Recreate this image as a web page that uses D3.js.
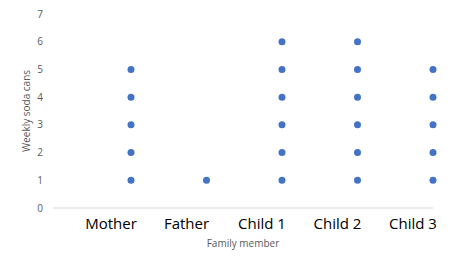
<!doctype html>
<html>
<head>
    <style>
        body { margin: 0; background: #fff; }
        svg text { font-family: "Open Sans", sans-serif; }
    </style>
    <script src="https://d3js.org/d3.v7.min.js"></script>
</head>
<body>
    <script>
        // categories and the soda can counts stacked for each member
        var members = ["Mother", "Father", "Child 1", "Child 2", "Child 3"];
        var cans = [
            [1, 2, 3, 4, 5],
            [1],
            [1, 2, 3, 4, 5, 6],
            [1, 2, 3, 4, 5, 6],
            [1, 2, 3, 4, 5]
        ];
        var yTicks = [0, 1, 2, 3, 4, 5, 6, 7];

        var width = 450, height = 269;

        var svg = d3.select("body").append("svg")
            .attr("width", width)
            .attr("height", height);

        var x = d3.scalePoint()
            .domain(members)
            .range([131, 433]);

        var y = d3.scaleLinear()
            .domain([0, 7])
            .range([208, 14]);

        // baseline
        svg.append("line")
            .attr("x1", 53).attr("x2", 433)
            .attr("y1", y(0)).attr("y2", y(0))
            .attr("stroke", "#d9d9d9");

        // y tick labels
        svg.selectAll(".ytick")
            .data(yTicks)
            .enter().append("text")
            .attr("x", 40)
            .attr("y", function (d) { return y(d); })
            .attr("dy", "0.35em")
            .attr("text-anchor", "middle")
            .attr("fill", "#595959")
            .style("font-size", "10px")
            .text(function (d) { return d; });

        // dots
        var points = [];
        members.forEach(function (m, i) {
            cans[i].forEach(function (v) { points.push({ m: m, v: v }); });
        });

        svg.selectAll("circle")
            .data(points)
            .enter().append("circle")
            .attr("cx", function (d) { return x(d.m); })
            .attr("cy", function (d) { return y(d.v); })
            .attr("r", 3.5)
            .attr("fill", "#4472c4");

        // category labels (sit a little left of the dots, as in the original)
        svg.selectAll(".cat")
            .data(members)
            .enter().append("text")
            .attr("x", function (d) { return x(d) - 20; })
            .attr("y", 229)
            .attr("text-anchor", "middle")
            .attr("fill", "#000")
            .style("font-size", "15px")
            .text(function (d) { return d; });

        // axis titles
        svg.append("text")
            .attr("x", 243)
            .attr("y", 247)
            .attr("text-anchor", "middle")
            .attr("fill", "#595959")
            .style("font-size", "10px")
            .text("Family member");

        svg.append("text")
            .attr("transform", "translate(30,111) rotate(-90)")
            .attr("text-anchor", "middle")
            .attr("fill", "#595959")
            .style("font-size", "10px")
            .text("Weekly soda cans");
    </script>
</body>
</html>
